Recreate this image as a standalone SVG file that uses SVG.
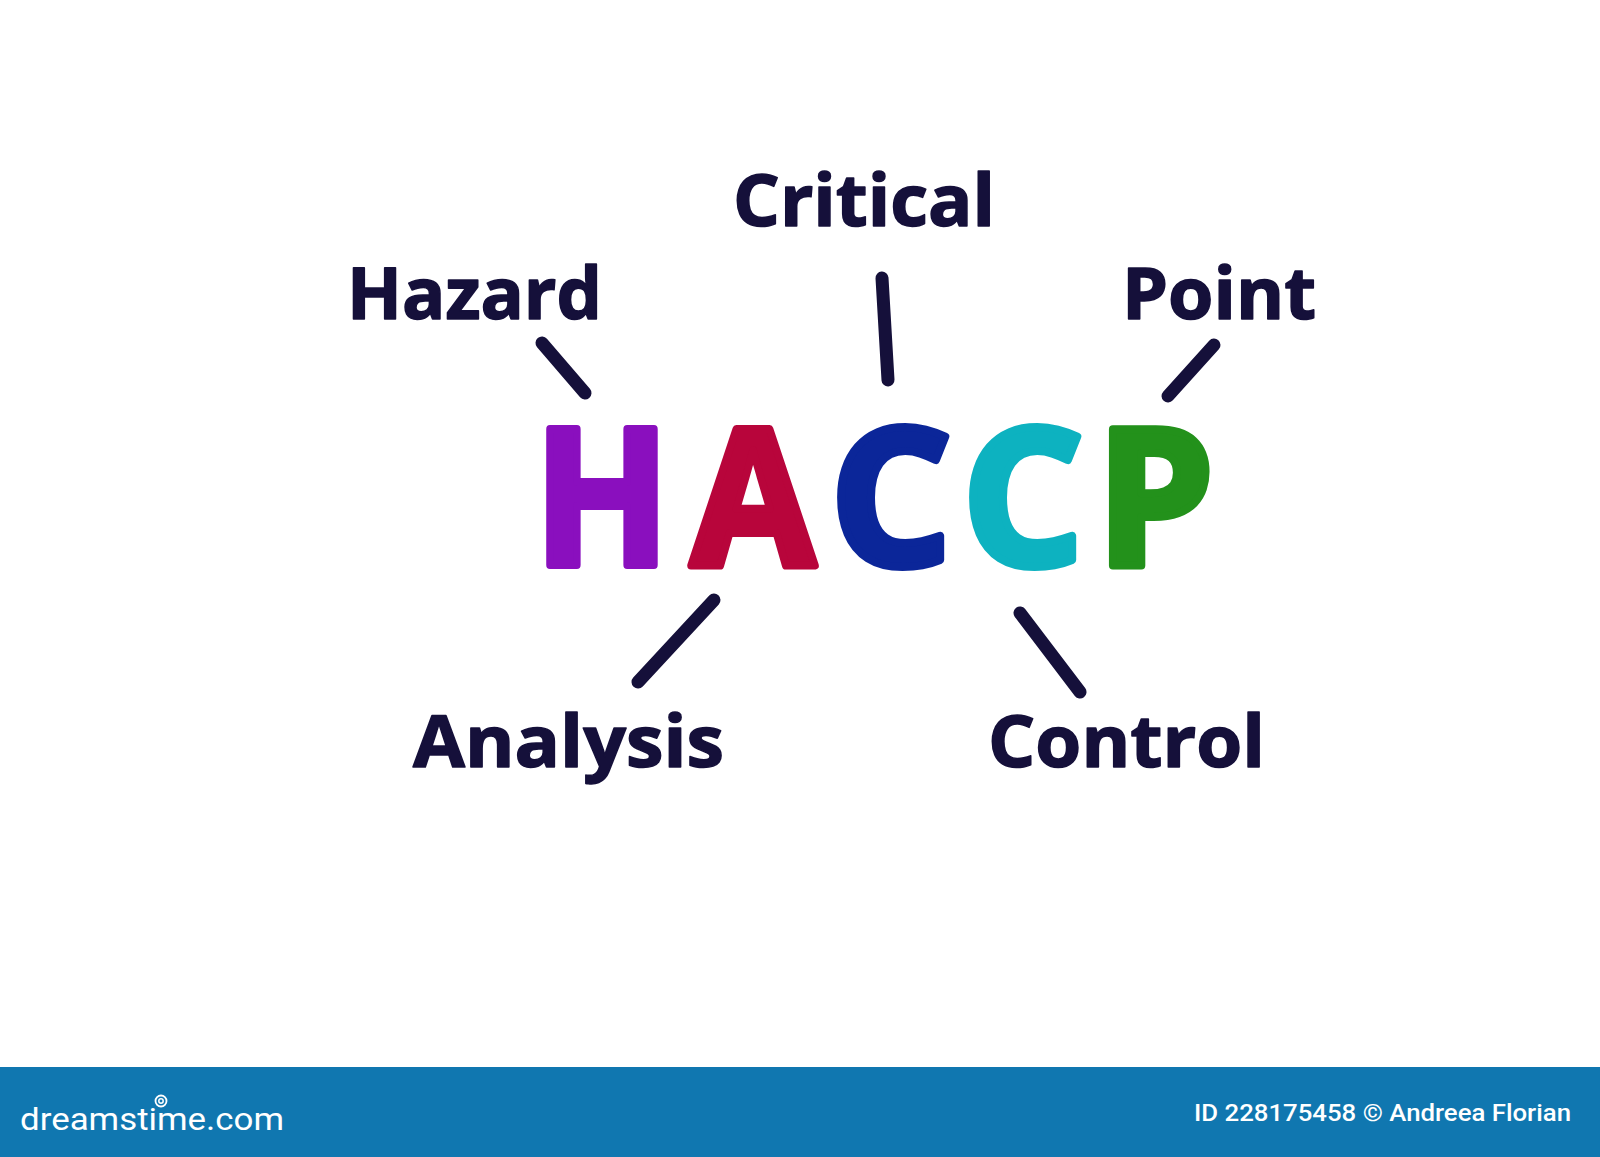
<svg xmlns="http://www.w3.org/2000/svg" width="1600" height="1157" viewBox="0 0 1600 1157">
<style>
.lbl{font-family:"Open Sans","Noto Sans",sans-serif;font-weight:700;font-size:72px;fill:#15103a;stroke:#15103a;stroke-width:1.5;stroke-linejoin:round}
.big{font-family:"Open Sans","Noto Sans",sans-serif;font-weight:700;font-size:190px;text-anchor:middle;stroke-width:8;stroke-linejoin:round}
.con{stroke:#15103a;stroke-width:13;stroke-linecap:round;fill:none}
.foot{font-family:Roboto,"Liberation Sans",sans-serif;fill:#ffffff}
</style>
<rect width="1600" height="1157" fill="#ffffff"/>
<g id="center">
<text class="big" x="602" y="565" fill="#8a0fbe" stroke="#8a0fbe" textLength="136" lengthAdjust="spacingAndGlyphs">H</text>
<text class="big" x="753" y="565" fill="#b8053b" stroke="#b8053b" textLength="124" lengthAdjust="spacingAndGlyphs">A</text>
<text class="big" x="891" y="565" fill="#0b2699" stroke="#0b2699" textLength="122" lengthAdjust="spacingAndGlyphs">C</text>
<text class="big" x="1023" y="565" fill="#0db2c0" stroke="#0db2c0" textLength="122" lengthAdjust="spacingAndGlyphs">C</text>
<text class="big" x="1155" y="565" fill="#23911b" stroke="#23911b" textLength="118" lengthAdjust="spacingAndGlyphs">P</text>
</g>
<g id="hazard"><text class="lbl" x="347" y="319" textLength="255" lengthAdjust="spacingAndGlyphs">Hazard</text></g>
<g id="critical"><text class="lbl" x="733" y="226" textLength="262" lengthAdjust="spacingAndGlyphs">Critical</text></g>
<g id="point"><text class="lbl" x="1122" y="319" textLength="194" lengthAdjust="spacingAndGlyphs">Point</text></g>
<g id="analysis"><text class="lbl" x="413" y="767" textLength="311" lengthAdjust="spacingAndGlyphs">Analysis</text></g>
<g id="control"><text class="lbl" x="988" y="767" textLength="277" lengthAdjust="spacingAndGlyphs">Control</text></g>
<g id="connectors">
<line class="con" x1="542" y1="343" x2="585" y2="393"/>
<line class="con" x1="882" y1="278" x2="888" y2="380"/>
<line class="con" x1="1214" y1="345" x2="1168" y2="396"/>
<line class="con" x1="714" y1="600" x2="638" y2="682"/>
<line class="con" x1="1020" y1="613" x2="1080" y2="692"/>
</g>
<g id="footer">
<rect x="0" y="1067" width="1600" height="90" fill="#1077b0"/>
<text class="foot" x="20" y="1130" font-size="31" font-family="Noto Sans, sans-serif" textLength="264" lengthAdjust="spacingAndGlyphs">dreamstime.com</text>
<circle cx="161" cy="1101" r="5.5" fill="none" stroke="#ffffff" stroke-width="1.8"/>
<circle cx="161" cy="1101" r="2.2" fill="none" stroke="#ffffff" stroke-width="1.5"/>
<text class="foot" x="1194" y="1121" font-size="24" font-weight="500" textLength="377" lengthAdjust="spacingAndGlyphs">ID 228175458 © Andreea Florian</text>
</g>
</svg>
